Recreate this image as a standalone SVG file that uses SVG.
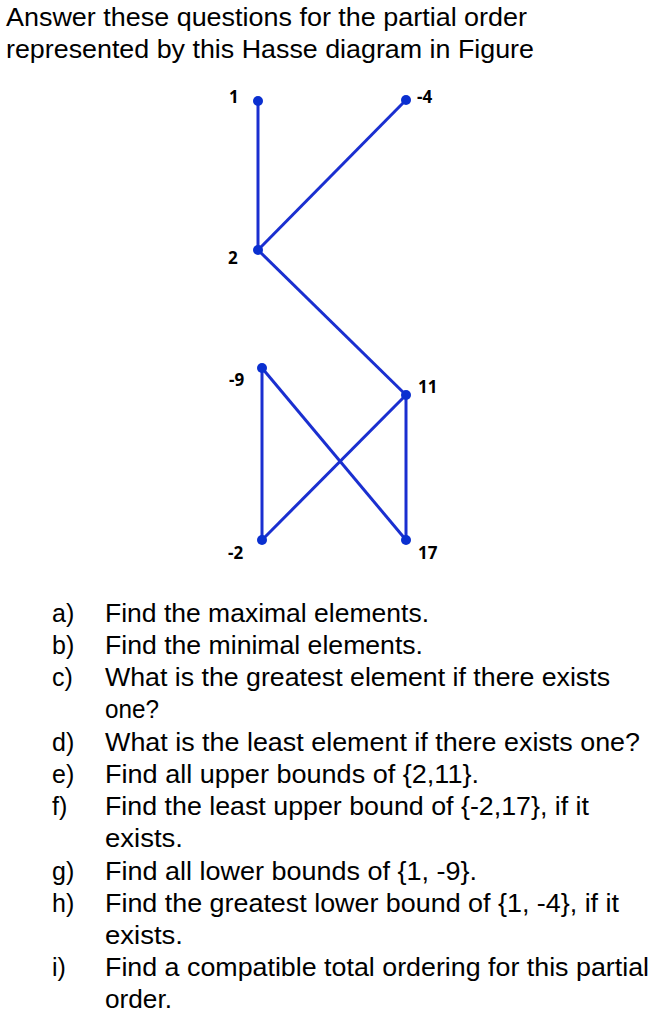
<svg xmlns="http://www.w3.org/2000/svg" width="664" height="1024" viewBox="0 0 664 1024">
<style>
.t{font-family:"Liberation Sans",Arial,sans-serif;font-size:25px;fill:#000}
.l{font-family:"Open Sans","Liberation Sans",sans-serif;font-size:17px;font-weight:bold;fill:#000}
.e{stroke:#1a2fd0;stroke-width:3;fill:none}
.n{fill:#0a2fd0}
</style>
<rect width="664" height="1024" fill="#fff"/>
<text class="t" x="6" y="26" textLength="521" lengthAdjust="spacingAndGlyphs">Answer these questions for the partial order</text>
<text class="t" x="6" y="58" textLength="528" lengthAdjust="spacingAndGlyphs">represented by this Hasse diagram in Figure</text>
<g id="connectors">
<line class="e" x1="258" y1="101" x2="258" y2="250"/>
<line class="e" x1="406" y1="100" x2="258" y2="250"/>
<line class="e" x1="258" y1="250" x2="406" y2="395"/>
<line class="e" x1="406" y1="395" x2="406" y2="540"/>
<line class="e" x1="406" y1="395" x2="262" y2="540"/>
<line class="e" x1="262" y1="368" x2="262" y2="540"/>
<line class="e" x1="262" y1="368" x2="406" y2="540"/>
</g>
<g id="n1"><circle class="n" cx="258" cy="101" r="5"/><text class="l" x="229" y="103">1</text></g>
<g id="n-4"><circle class="n" cx="406" cy="100" r="5"/><text class="l" x="417" y="103">-4</text></g>
<g id="n2"><circle class="n" cx="258" cy="250" r="5"/><text class="l" x="228" y="264">2</text></g>
<g id="n-9"><circle class="n" cx="262" cy="368" r="5"/><text class="l" x="229" y="386">-9</text></g>
<g id="n11"><circle class="n" cx="406" cy="395" r="5"/><text class="l" x="418" y="393">11</text></g>
<g id="n-2"><circle class="n" cx="262" cy="540" r="5"/><text class="l" x="228" y="559">-2</text></g>
<g id="n17"><circle class="n" cx="406" cy="540" r="5"/><text class="l" x="418" y="559">17</text></g>
<g>
<text class="t" x="52" y="622">a)</text><text class="t" x="105" y="622" textLength="324" lengthAdjust="spacingAndGlyphs">Find the maximal elements.</text>
<text class="t" x="52" y="654">b)</text><text class="t" x="105" y="654" textLength="318" lengthAdjust="spacingAndGlyphs">Find the minimal elements.</text>
<text class="t" x="52" y="686">c)</text><text class="t" x="105" y="686" textLength="505" lengthAdjust="spacingAndGlyphs">What is the greatest element if there exists</text>
<text class="t" x="105" y="718" textLength="54" lengthAdjust="spacingAndGlyphs">one?</text>
<text class="t" x="52" y="751">d)</text><text class="t" x="105" y="751" textLength="535" lengthAdjust="spacingAndGlyphs">What is the least element if there exists one?</text>
<text class="t" x="52" y="783">e)</text><text class="t" x="105" y="783" textLength="374" lengthAdjust="spacingAndGlyphs">Find all upper bounds of {2,11}.</text>
<text class="t" x="52" y="815">f)</text><text class="t" x="105" y="815" textLength="484" lengthAdjust="spacingAndGlyphs">Find the least upper bound of {-2,17}, if it</text>
<text class="t" x="105" y="847" textLength="78" lengthAdjust="spacingAndGlyphs">exists.</text>
<text class="t" x="52" y="880">g)</text><text class="t" x="105" y="880" textLength="372" lengthAdjust="spacingAndGlyphs">Find all lower bounds of {1, -9}.</text>
<text class="t" x="52" y="912">h)</text><text class="t" x="105" y="912" textLength="514" lengthAdjust="spacingAndGlyphs">Find the greatest lower bound of {1, -4}, if it</text>
<text class="t" x="105" y="944" textLength="78" lengthAdjust="spacingAndGlyphs">exists.</text>
<text class="t" x="52" y="976">i)</text><text class="t" x="105" y="976" textLength="544" lengthAdjust="spacingAndGlyphs">Find a compatible total ordering for this partial</text>
<text class="t" x="105" y="1008" textLength="67" lengthAdjust="spacingAndGlyphs">order.</text>
</g>
</svg>
